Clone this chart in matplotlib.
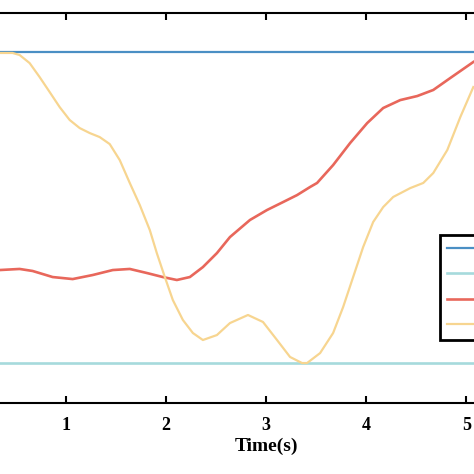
import matplotlib.pyplot as plt

plt.rcParams['font.family'] = 'Liberation Serif'
plt.rcParams['font.weight'] = 'bold'

# bounds
upper = 1.0
lower = -1.0

# red trajectory (time in s, value)
t_red = [0.0, 0.17, 0.34, 0.54, 0.67, 0.87, 1.07, 1.27, 1.47, 1.64, 1.81, 1.97,
         2.11, 2.24, 2.37, 2.51, 2.64, 2.84, 3.01, 3.17, 3.31, 3.44, 3.51, 3.67,
         3.84, 4.01, 4.17, 4.34, 4.51, 4.67, 4.84, 5.07]
y_red = [-0.41, -0.40, -0.402, -0.395, -0.408, -0.447, -0.460, -0.434, -0.402, -0.395, -0.421, -0.447,
         -0.466, -0.447, -0.383, -0.293, -0.190, -0.080, -0.016, 0.035, 0.080, 0.132, 0.158, 0.273,
         0.415, 0.543, 0.640, 0.691, 0.717, 0.756, 0.833, 0.936]

# yellow trajectory
t_yel = [0.0, 0.17, 0.34, 0.47, 0.54, 0.64, 0.74, 0.84, 0.94, 1.04, 1.14, 1.24, 1.34,
         1.44, 1.54, 1.64, 1.74, 1.84, 1.91, 1.99, 2.07, 2.17, 2.27, 2.37, 2.51,
         2.64, 2.82, 2.97, 3.11, 3.24, 3.36, 3.41, 3.54, 3.67, 3.77, 3.87, 3.97,
         4.07, 4.17, 4.27, 4.44, 4.57, 4.67, 4.81, 4.94, 5.07]
y_yel = [0.98, 0.99, 0.994, 0.994, 0.981, 0.929, 0.839, 0.743, 0.646, 0.563, 0.511, 0.479, 0.453,
         0.408, 0.305, 0.158, 0.016, -0.145, -0.293, -0.447, -0.595, -0.723, -0.807, -0.852, -0.820,
         -0.743, -0.691, -0.736, -0.852, -0.961, -1.0, -1.0, -0.936, -0.807, -0.640, -0.447, -0.254,
         -0.093, 0.003, 0.068, 0.125, 0.158, 0.222, 0.370, 0.582, 0.775]

fig = plt.figure(figsize=(4.74, 4.74), dpi=100)
ax = fig.add_axes([-34.5 / 474, 71 / 474, 601 / 474, 390 / 474])

h1 = ax.axhline(upper, color='#4a8fc4', lw=1.6)
h2 = ax.axhline(lower, color='#a6dadc', lw=1.9)
h3, = ax.plot(t_red, y_red, color='#e8675b', lw=1.9, solid_joinstyle='round')
h4, = ax.plot(t_yel, y_yel, color='#f7d590', lw=1.6, solid_joinstyle='round')

ax.set_xlim(0, 6)
ax.set_ylim(-1.257, 1.251)
ax.set_xticks([1, 2, 3, 4, 5])
ax.set_yticks([])
ax.tick_params(axis='x', direction='in', top=True, length=5, width=1.5,
               labelsize=13, pad=10)
for s in ax.spines.values():
    s.set_linewidth(1.5)
ax.set_xlabel('Time(s)', fontsize=14, fontweight='bold', labelpad=3)

# legend text lies outside the visible area in the reference
leg = ax.legend([h1, h2, h3, h4], ['', '', '', ''], loc='upper left',
                bbox_to_anchor=(440 / 474, 1 - 235 / 474),
                bbox_transform=fig.transFigure, fontsize=12, fancybox=False,
                framealpha=1, edgecolor='black', labelspacing=0.56,
                borderaxespad=0, handlelength=3)
leg.get_frame().set_linewidth(2)

fig.savefig('out.png', dpi=100)
